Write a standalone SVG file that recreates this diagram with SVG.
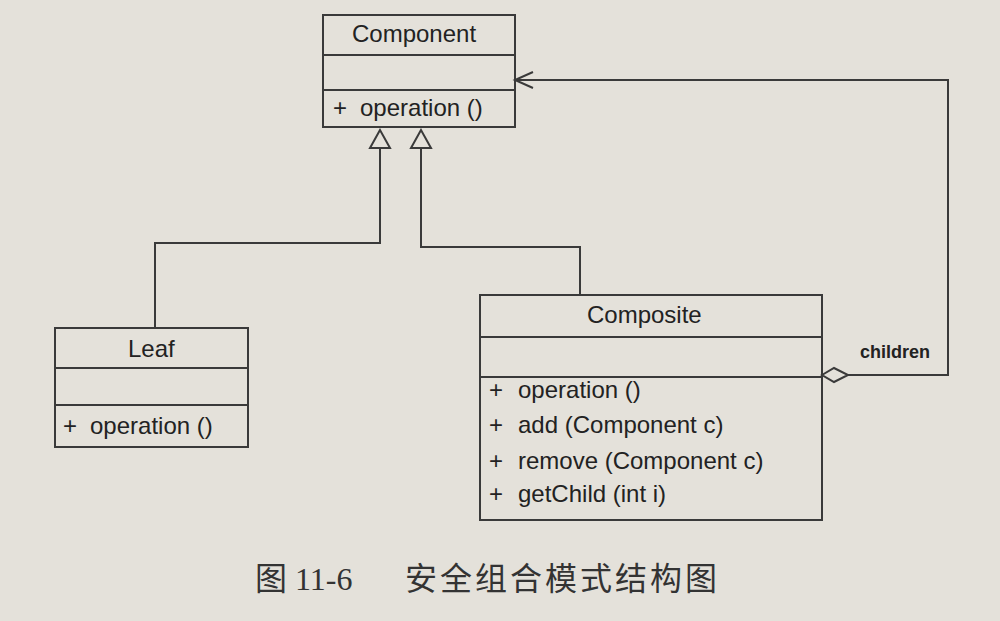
<svg xmlns="http://www.w3.org/2000/svg" width="1000" height="621" viewBox="0 0 1000 621">
<style>
.box{fill:none;stroke:#3a3a3a;stroke-width:2}
.ln{fill:none;stroke:#3a3a3a;stroke-width:2}
.t{font-family:"Liberation Sans",Arial,sans-serif;font-size:24px;fill:#222}
.c{font-family:"Liberation Serif","Noto Sans CJK SC",serif;font-size:32px;fill:#333}
</style>
<rect width="1000" height="621" fill="#e4e1da"/>
<g id="connectors">
<polyline class="ln" points="155,328 155,243 380,243 380,148"/>
<polygon class="box" points="380,130 370,148 390,148"/>
<polyline class="ln" points="421,148 421,247 580,247 580,295"/>
<polygon class="box" points="421,130 411,148 431,148"/>
<polyline class="ln" points="846,375 948,375 948,80 515,80"/>
<polyline class="ln" points="533,72 515,80 533,88"/>
<polygon fill="#e4e1da" stroke="#3a3a3a" stroke-width="2" points="822,375 834,368 848,375 834,382"/>
<text x="860" y="358" class="t" style="font-size:18px;font-weight:bold">children</text>
</g>
<g id="Component">
<rect class="box" x="323" y="15" width="192" height="112"/>
<line class="ln" x1="323" y1="55" x2="515" y2="55"/>
<line class="ln" x1="323" y1="90" x2="515" y2="90"/>
<text class="t" x="352" y="42">Component</text>
<text class="t" x="333" y="116">+</text><text class="t" x="360" y="116">operation ()</text>
</g>
<g id="Leaf">
<rect class="box" x="55" y="328" width="193" height="119"/>
<line class="ln" x1="55" y1="368" x2="248" y2="368"/>
<line class="ln" x1="55" y1="405" x2="248" y2="405"/>
<text class="t" x="128" y="357">Leaf</text>
<text class="t" x="63" y="434">+</text><text class="t" x="90" y="434">operation ()</text>
</g>
<g id="Composite">
<rect class="box" x="480" y="295" width="342" height="225"/>
<line class="ln" x1="480" y1="337" x2="822" y2="337"/>
<line class="ln" x1="480" y1="377" x2="822" y2="377"/>
<text class="t" x="587" y="323">Composite</text>
<text class="t" x="489" y="398">+</text><text class="t" x="518" y="398">operation ()</text>
<text class="t" x="489" y="433">+</text><text class="t" x="518" y="433">add (Component c)</text>
<text class="t" x="489" y="469">+</text><text class="t" x="518" y="469">remove (Component c)</text>
<text class="t" x="489" y="502">+</text><text class="t" x="518" y="502">getChild (int i)</text>
</g>
<text class="c" x="255" y="590">图 11-6</text>
<text class="c" x="405" y="590" style="letter-spacing:3px">安全组合模式结构图</text>
</svg>
